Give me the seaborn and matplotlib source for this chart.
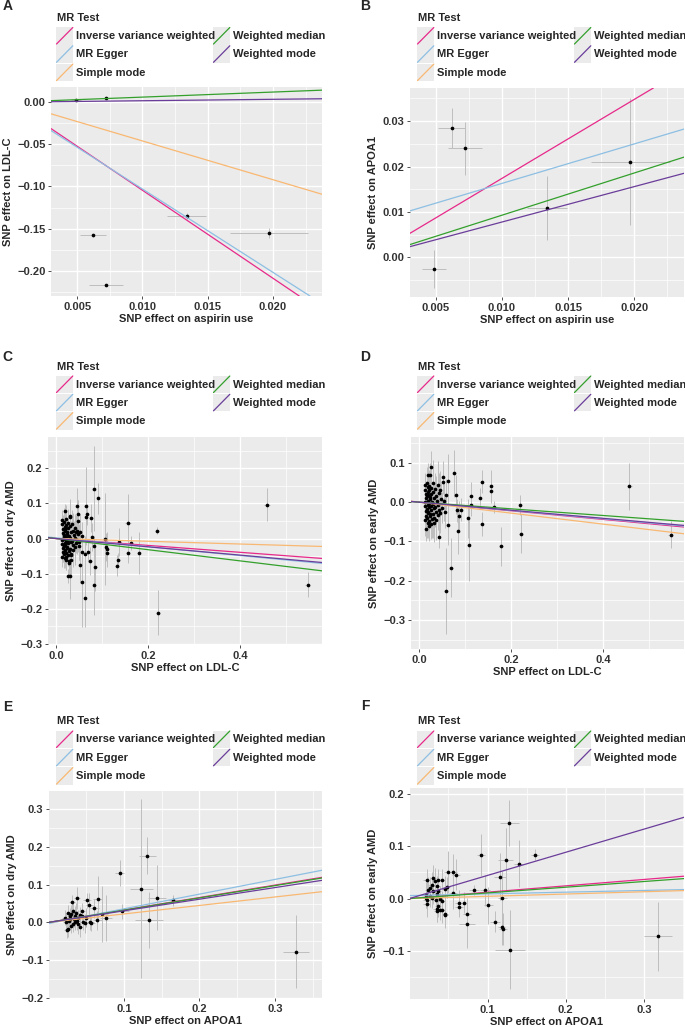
import numpy as np
import matplotlib
matplotlib.use("Agg")
import matplotlib.pyplot as plt
import seaborn as sns
from matplotlib.patches import Rectangle
from matplotlib.lines import Line2D
from matplotlib.ticker import AutoMinorLocator

W, H = 685, 1027

methods = ["Inverse variance weighted", "MR Egger", "Simple mode",
           "Weighted median", "Weighted mode"]
colors = ["#E7298A", "#8DBFE3", "#F9B872", "#33A02C", "#6A3D9A"]

# SNP effects: (exposure beta, outcome beta, exposure se, outcome se)
a_snps = [(0.0049, 0.0025, 0.0004, 0.0015), (0.0072, 0.0050, 0.0004, 0.0015),
          (0.0062, -0.158, 0.0010, 0.0015), (0.0072, -0.217, 0.0013, 0.0015),
          (0.0134, -0.135, 0.0015, 0.0040), (0.0197, -0.155, 0.0030, 0.0060)]
a_icpt = [0, -0.004, 0, 0, 0]
a_slope = [-10.45, -9.9, -4.6, 0.6, 0.17]

b_snps = [(0.0049, -0.0025, 0.0009, 0.0042), (0.0062, 0.0284, 0.0010, 0.0044),
          (0.0072, 0.0240, 0.0013, 0.0058), (0.0134, 0.0109, 0.0015, 0.0070),
          (0.0197, 0.0211, 0.0030, 0.0140)]
b_icpt = [0, 0.0076, 0, 0, 0]
b_slope = [1.74, 0.87, -4.0, 0.93, 0.78]

c_snps = [(0.0815, 0.142, 0.003, 0.120), (0.091, 0.114, 0.003, 0.045), (0.045, 0.093, 0.002, 0.050),
          (0.064, 0.093, 0.003, 0.110), (0.048, 0.069, 0.002, 0.040), (0.067, 0.069, 0.002, 0.030),
          (0.019, 0.077, 0.002, 0.020), (0.029, 0.064, 0.002, 0.030), (0.076, 0.059, 0.003, 0.040),
          (0.064, 0.062, 0.002, 0.030), (0.107, -0.001, 0.003, 0.130), (0.077, 0.005, 0.002, 0.040),
          (0.082, -0.022, 0.002, 0.030), (0.108, -0.024, 0.003, 0.040), (0.111, -0.030, 0.003, 0.050),
          (0.111, -0.041, 0.003, 0.030), (0.137, -0.011, 0.004, 0.040), (0.163, -0.014, 0.004, 0.020),
          (0.156, 0.0455, 0.006, 0.080), (0.156, -0.040, 0.004, 0.030), (0.179, -0.042, 0.004, 0.060),
          (0.135, -0.060, 0.004, 0.020), (0.132, -0.078, 0.004, 0.030), (0.2196, 0.0227, 0.004, 0.010),
          (0.458, 0.0966, 0.006, 0.047), (0.547, -0.131, 0.005, 0.036), (0.221, -0.211, 0.004, 0.064),
          (0.085, -0.080, 0.003, 0.070), (0.074, -0.064, 0.003, 0.040), (0.051, -0.076, 0.002, 0.050),
          (0.057, -0.123, 0.002, 0.130), (0.083, -0.133, 0.003, 0.085), (0.0625, -0.168, 0.002, 0.085),
          (0.025, -0.106, 0.002, 0.020), (0.029, -0.106, 0.002, 0.065), (0.062, -0.043, 0.002, 0.050),
          (0.068, -0.037, 0.002, 0.030), (0.055, -0.038, 0.002, 0.020), (0.027, -0.064, 0.002, 0.030),
          (0.031, -0.047, 0.002, 0.040), (0.022, -0.052, 0.002, 0.030),
          (0.012, 0.052, 0.002, 0.030), (0.013, 0.040, 0.002, 0.030), (0.014, 0.028, 0.002, 0.040),
          (0.015, 0.015, 0.002, 0.030), (0.016, 0.005, 0.002, 0.020), (0.012, -0.004, 0.002, 0.030),
          (0.013, -0.015, 0.002, 0.030), (0.014, -0.026, 0.002, 0.040), (0.015, -0.038, 0.002, 0.030),
          (0.013, -0.052, 0.002, 0.030), (0.017, 0.046, 0.002, 0.040), (0.018, 0.033, 0.002, 0.030),
          (0.019, 0.022, 0.002, 0.030), (0.017, 0.010, 0.002, 0.020), (0.018, -0.002, 0.002, 0.030),
          (0.019, -0.012, 0.002, 0.040), (0.017, -0.022, 0.002, 0.030), (0.018, -0.033, 0.002, 0.030),
          (0.016, -0.045, 0.002, 0.040), (0.019, -0.055, 0.002, 0.030), (0.021, 0.055, 0.002, 0.040),
          (0.022, 0.038, 0.002, 0.030), (0.020, 0.026, 0.002, 0.030), (0.023, 0.014, 0.002, 0.040),
          (0.021, 0.004, 0.002, 0.030), (0.022, -0.008, 0.002, 0.030), (0.020, -0.018, 0.002, 0.040),
          (0.023, -0.028, 0.002, 0.030), (0.021, -0.040, 0.002, 0.050), (0.022, -0.060, 0.002, 0.030),
          (0.025, 0.045, 0.002, 0.040), (0.026, 0.030, 0.002, 0.030), (0.024, 0.018, 0.002, 0.030),
          (0.027, 0.008, 0.002, 0.040), (0.025, -0.003, 0.002, 0.030), (0.026, -0.014, 0.002, 0.050),
          (0.024, -0.024, 0.002, 0.030), (0.027, -0.036, 0.002, 0.040), (0.025, -0.048, 0.002, 0.030),
          (0.028, -0.070, 0.002, 0.040), (0.029, 0.062, 0.002, 0.050), (0.030, 0.035, 0.002, 0.040),
          (0.031, 0.020, 0.002, 0.030), (0.029, 0.002, 0.002, 0.040), (0.032, -0.010, 0.002, 0.050),
          (0.030, -0.030, 0.002, 0.040), (0.033, -0.045, 0.002, 0.030), (0.031, -0.060, 0.002, 0.050),
          (0.035, 0.040, 0.002, 0.040), (0.036, 0.022, 0.002, 0.050), (0.038, 0.010, 0.002, 0.040),
          (0.035, -0.006, 0.002, 0.030), (0.037, -0.018, 0.002, 0.040), (0.036, -0.032, 0.002, 0.050),
          (0.040, 0.030, 0.002, 0.040), (0.042, 0.018, 0.002, 0.050), (0.041, 0.002, 0.002, 0.040),
          (0.043, -0.012, 0.002, 0.030), (0.040, -0.025, 0.002, 0.050), (0.046, 0.022, 0.002, 0.040),
          (0.048, 0.012, 0.002, 0.050), (0.045, -0.004, 0.002, 0.040), (0.047, 0.050, 0.002, 0.060),
          (0.049, -0.020, 0.002, 0.040), (0.052, 0.020, 0.002, 0.050), (0.055, 0.008, 0.002, 0.040),
          (0.050, -0.010, 0.002, 0.050)]
c_icpt = [0, 0.002, 0, 0, 0]
c_slope = [-0.098, -0.126, -0.039, -0.159, -0.118]

d_snps = [(0.4565, 0.040, 0.006, 0.061), (0.5457, -0.083, 0.005, 0.035), (0.2196, -0.0068, 0.004, 0.025),
          (0.221, -0.0805, 0.004, 0.050), (0.178, -0.112, 0.004, 0.050), (0.107, -0.108, 0.004, 0.093),
          (0.058, -0.226, 0.004, 0.110), (0.0696, -0.167, 0.004, 0.075), (0.1355, 0.0525, 0.003, 0.030),
          (0.131, 0.011, 0.003, 0.025), (0.156, 0.042, 0.003, 0.040), (0.156, 0.028, 0.003, 0.030),
          (0.1355, -0.055, 0.003, 0.030), (0.1616, -0.013, 0.003, 0.015), (0.1116, 0.016, 0.003, 0.035),
          (0.1116, -0.006, 0.003, 0.030), (0.106, -0.041, 0.003, 0.050), (0.076, 0.074, 0.003, 0.060),
          (0.0797, 0.019, 0.003, 0.050), (0.084, -0.073, 0.003, 0.060), (0.062, -0.058, 0.003, 0.050),
          (0.0435, -0.088, 0.002, 0.030), (0.0507, 0.065, 0.002, 0.040), (0.0507, 0.051, 0.002, 0.030),
          (0.026, 0.0907, 0.002, 0.040), (0.019, 0.069, 0.002, 0.030), (0.024, 0.069, 0.002, 0.030),
          (0.062, 0.053, 0.002, 0.070), (0.058, 0.019, 0.002, 0.040), (0.082, -0.021, 0.002, 0.030),
          (0.087, -0.036, 0.002, 0.040), (0.091, -0.019, 0.002, 0.030), (0.0145, -0.068, 0.002, 0.030),
          (0.012, 0.045, 0.002, 0.030), (0.013, 0.032, 0.002, 0.040), (0.014, 0.020, 0.002, 0.030),
          (0.015, 0.010, 0.002, 0.030), (0.012, 0.000, 0.002, 0.040), (0.013, -0.010, 0.002, 0.030),
          (0.014, -0.022, 0.002, 0.040), (0.015, -0.034, 0.002, 0.030), (0.013, -0.046, 0.002, 0.040),
          (0.017, 0.050, 0.002, 0.040), (0.018, 0.038, 0.002, 0.030), (0.019, 0.026, 0.002, 0.040),
          (0.017, 0.015, 0.002, 0.030), (0.018, 0.004, 0.002, 0.040), (0.019, -0.006, 0.002, 0.030),
          (0.017, -0.017, 0.002, 0.040), (0.018, -0.028, 0.002, 0.030), (0.016, -0.040, 0.002, 0.050),
          (0.019, -0.052, 0.002, 0.040), (0.021, 0.042, 0.002, 0.040), (0.022, 0.030, 0.002, 0.050),
          (0.020, 0.018, 0.002, 0.040), (0.023, 0.008, 0.002, 0.030), (0.021, -0.002, 0.002, 0.040),
          (0.022, -0.013, 0.002, 0.050), (0.020, -0.024, 0.002, 0.040), (0.023, -0.036, 0.002, 0.030),
          (0.021, -0.047, 0.002, 0.050), (0.022, -0.060, 0.002, 0.040), (0.025, 0.036, 0.002, 0.050),
          (0.026, 0.022, 0.002, 0.040), (0.024, 0.012, 0.002, 0.030), (0.027, 0.001, 0.002, 0.040),
          (0.025, -0.010, 0.002, 0.050), (0.026, -0.020, 0.002, 0.040), (0.024, -0.031, 0.002, 0.030),
          (0.027, -0.042, 0.002, 0.050), (0.025, -0.055, 0.002, 0.040), (0.029, 0.048, 0.002, 0.060),
          (0.030, 0.026, 0.002, 0.050), (0.031, 0.010, 0.002, 0.040), (0.029, -0.004, 0.002, 0.050),
          (0.032, -0.016, 0.002, 0.040), (0.030, -0.030, 0.002, 0.060), (0.033, -0.040, 0.002, 0.040),
          (0.031, -0.052, 0.002, 0.050), (0.035, 0.034, 0.002, 0.040), (0.036, 0.016, 0.002, 0.050),
          (0.038, 0.003, 0.002, 0.040), (0.035, -0.012, 0.002, 0.050), (0.037, -0.024, 0.002, 0.040),
          (0.036, -0.046, 0.002, 0.050), (0.040, 0.044, 0.002, 0.060), (0.042, 0.024, 0.002, 0.050),
          (0.041, -0.008, 0.002, 0.040), (0.043, -0.020, 0.002, 0.050), (0.040, -0.032, 0.002, 0.040),
          (0.046, 0.030, 0.002, 0.050), (0.048, 0.008, 0.002, 0.040), (0.045, -0.028, 0.002, 0.050),
          (0.049, -0.014, 0.002, 0.040), (0.053, 0.002, 0.002, 0.050), (0.056, -0.026, 0.002, 0.040)]
d_icpt = [0, 0.0, 0, 0, 0]
d_slope = [-0.110, -0.106, -0.140, -0.085, -0.103]

e_snps = [(0.328, -0.077, 0.017, 0.097), (0.131, 0.177, 0.011, 0.050), (0.123, 0.0895, 0.015, 0.237),
          (0.133, 0.007, 0.0185, 0.074), (0.144, 0.065, 0.012, 0.086), (0.165, 0.0588, 0.010, 0.015),
          (0.0943, 0.1316, 0.006, 0.035), (0.097, 0.029, 0.010, 0.020), (0.076, 0.012, 0.008, 0.060),
          (0.071, 0.022, 0.008, 0.075), (0.0656, 0.0623, 0.006, 0.060), (0.0647, 0.006, 0.006, 0.025),
          (0.0607, 0.0377, 0.006, 0.025), (0.0545, 0.047, 0.005, 0.030), (0.0514, 0.0588, 0.005, 0.020),
          (0.0558, 0.000, 0.005, 0.020), (0.038, 0.065, 0.004, 0.030), (0.0316, 0.0535, 0.004, 0.020),
          (0.0262, 0.026, 0.004, 0.020), (0.0307, 0.022, 0.004, 0.025), (0.0329, 0.0305, 0.004, 0.020),
          (0.0373, 0.026, 0.004, 0.025), (0.0395, 0.013, 0.004, 0.020), (0.0285, 0.0087, 0.004, 0.025),
          (0.035, 0.000, 0.004, 0.020), (0.0241, 0.000, 0.004, 0.025), (0.0307, -0.009, 0.004, 0.020),
          (0.0262, -0.0176, 0.004, 0.020), (0.0395, -0.0045, 0.004, 0.025), (0.0461, 0.000, 0.004, 0.020),
          (0.0417, -0.013, 0.004, 0.025), (0.0219, 0.013, 0.004, 0.020), (0.036, 0.0175, 0.004, 0.025),
          (0.044, 0.0175, 0.004, 0.020), (0.027, 0.003, 0.004, 0.025), (0.033, -0.004, 0.004, 0.020),
          (0.029, 0.017, 0.004, 0.020), (0.038, 0.005, 0.004, 0.025), (0.042, 0.021, 0.004, 0.020),
          (0.048, -0.002, 0.004, 0.025), (0.025, -0.020, 0.004, 0.020), (0.034, 0.009, 0.004, 0.020),
          (0.0493, 0.013, 0.004, 0.025), (0.0448, 0.0305, 0.004, 0.020), (0.057, -0.002, 0.005, 0.020)]
e_icpt = [0, -0.003, 0, 0, 0]
e_slope = [0.33, 0.39, 0.225, 0.325, 0.308]

f_snps = [(0.3174, -0.072, 0.018, 0.066), (0.1277, 0.1446, 0.012, 0.044), (0.0915, 0.0828, 0.005, 0.040),
          (0.123, 0.0745, 0.010, 0.060), (0.1396, 0.0669, 0.006, 0.045), (0.161, 0.084, 0.005, 0.010),
          (0.1157, 0.0414, 0.008, 0.045), (0.119, 0.002, 0.006, 0.050), (0.0966, 0.016, 0.006, 0.030),
          (0.0826, 0.016, 0.006, 0.010), (0.1009, -0.0127, 0.006, 0.035), (0.1098, -0.0446, 0.006, 0.020),
          (0.1179, -0.0535, 0.005, 0.035), (0.120, -0.058, 0.005, 0.030), (0.1285, -0.0975, 0.019, 0.076),
          (0.074, -0.0478, 0.010, 0.046), (0.074, -0.0287, 0.005, 0.030), (0.0634, -0.0083, 0.005, 0.025),
          (0.0634, -0.016, 0.005, 0.020), (0.0694, -0.0083, 0.005, 0.020), (0.0498, 0.0503, 0.005, 0.040),
          (0.0562, 0.0503, 0.005, 0.035), (0.0596, 0.0459, 0.005, 0.030), (0.0562, 0.0108, 0.005, 0.030),
          (0.046, -0.029, 0.004, 0.020), (0.0413, -0.021, 0.004, 0.025),
          (0.0221, 0.0363, 0.004, 0.020), (0.0307, 0.0395, 0.004, 0.025), (0.037, 0.0363, 0.004, 0.020),
          (0.0327, 0.033, 0.004, 0.025), (0.0422, 0.0363, 0.004, 0.020), (0.0285, 0.0255, 0.004, 0.025),
          (0.035, 0.0235, 0.004, 0.020), (0.0243, 0.0172, 0.004, 0.025), (0.0264, 0.0204, 0.004, 0.020),
          (0.0307, 0.014, 0.004, 0.025), (0.037, 0.0153, 0.004, 0.020), (0.0455, 0.019, 0.004, 0.025),
          (0.0477, 0.0216, 0.004, 0.020), (0.0208, 0.0076, 0.004, 0.025), (0.0264, 0.0044, 0.004, 0.020),
          (0.035, 0.009, 0.004, 0.025), (0.0285, 0.0013, 0.004, 0.020), (0.0221, -0.0032, 0.004, 0.025),
          (0.0336, -0.0019, 0.004, 0.020), (0.0391, 0.000, 0.004, 0.025), (0.0413, -0.0052, 0.004, 0.020),
          (0.0221, -0.0096, 0.004, 0.025), (0.037, -0.0147, 0.004, 0.020), (0.035, -0.019, 0.004, 0.025),
          (0.0391, -0.021, 0.004, 0.020), (0.0455, -0.0306, 0.004, 0.025), (0.0358, -0.0243, 0.004, 0.020),
          (0.0208, 0.0013, 0.004, 0.020)]
f_icpt = [0, 0.0057, 0, 0, 0]
f_slope = [0.122, 0.033, 0.0437, 0.109, 0.443]

sns.set_theme(style="darkgrid", rc={
    "axes.facecolor": "#EBEBEB", "grid.color": "white", "grid.linewidth": 1.0,
    "xtick.bottom": True, "ytick.left": True, "xtick.major.size": 2.5, "ytick.major.size": 2.5,
    "xtick.major.width": 0.6, "ytick.major.width": 0.6, "xtick.color": "#333333",
    "ytick.color": "#333333", "xtick.major.pad": 1.5, "ytick.major.pad": 1.5,
    "xtick.labelsize": 8, "ytick.labelsize": 8, "axes.labelsize": 8,
})
plt.rcParams["font.family"] = ["Liberation Sans", "DejaVu Sans"]
plt.rcParams["font.weight"] = "bold"
plt.rcParams["font.size"] = 8

fig = plt.figure(figsize=(W / 100, H / 100), dpi=100)


def add_ax(x0, y0, x1, y1):
    return fig.add_axes([x0 / W, 1 - y1 / H, (x1 - x0) / W, (y1 - y0) / H])


def draw_legend(kx, ky):
    fig.text((kx + 1) / W, 1 - (ky - 9) / H, "MR Test", fontsize=8, fontweight="bold", va="center")
    for i, (name, col) in enumerate(zip(methods, colors)):
        c, r = divmod(i, 3)
        x = kx + c * 157
        y = ky + r * 18.3
        fig.add_artist(Rectangle((x / W, 1 - (y + 17.6) / H), 17.3 / W, 17.6 / H,
                                 transform=fig.transFigure, facecolor="#EBEBEB", edgecolor="none"))
        fig.add_artist(Line2D([(x + 0.5) / W, (x + 16.8) / W], [1 - (y + 17) / H, 1 - (y + 0.5) / H],
                              transform=fig.transFigure, color=col, lw=0.9))
        fig.text((x + 20) / W, 1 - (y + 9) / H, name, fontsize=8, fontweight="bold", va="center")


def draw_panel(ax, snps, icpt, slope, xlim, ylim, xticks, yticks, xfmt, yfmt, xlabel, ylabel):
    bx, by, sx, sy = np.array(snps).T
    ax.errorbar(bx, by, yerr=sy, fmt="none", ecolor="#BEBEBE", elinewidth=0.7, zorder=1)
    ax.errorbar(bx, by, xerr=sx, fmt="none", ecolor="#BEBEBE", elinewidth=0.7, zorder=1)
    sns.scatterplot(x=bx, y=by, ax=ax, color="black", s=7, linewidth=0, zorder=3)
    for b0, b1, col in zip(icpt, slope, colors):
        ax.axline((0, b0), slope=b1, color=col, lw=0.9, zorder=4)
    ax.set_xlim(xlim)
    ax.set_ylim(ylim)
    ax.set_xticks(xticks)
    ax.set_yticks(yticks)
    ax.set_xticklabels([xfmt.format(v).replace("-", "\u2212") for v in xticks], fontweight="bold")
    ax.set_yticklabels([yfmt.format(v).replace("-", "\u2212") for v in yticks], fontweight="bold")
    ax.xaxis.set_minor_locator(AutoMinorLocator(2))
    ax.yaxis.set_minor_locator(AutoMinorLocator(2))
    ax.grid(which="minor", color="white", linewidth=0.5)
    ax.tick_params(which="minor", length=0)
    for s in ax.spines.values():
        s.set_visible(False)
    ax.set_xlabel(xlabel, fontweight="bold", labelpad=2)
    ax.set_ylabel(ylabel, fontweight="bold", labelpad=3)


axA = add_ax(51, 87, 322, 296)
draw_panel(axA, a_snps, a_icpt, a_slope, (0.0030, 0.02375), (-0.230, 0.018),
           [0.005, 0.010, 0.015, 0.020], [-0.20, -0.15, -0.10, -0.05, 0.00], "{:.3f}", "{:.2f}",
           "SNP effect on aspirin use", "SNP effect on LDL-C")
axB = add_ax(410, 88, 684, 297)
draw_panel(axB, b_snps, b_icpt, b_slope, (0.00306, 0.02375), (-0.0087, 0.0373),
           [0.005, 0.010, 0.015, 0.020], [0.00, 0.01, 0.02, 0.03], "{:.3f}", "{:.2f}",
           "SNP effect on aspirin use", "SNP effect on APOA1")
axC = add_ax(48, 437, 322, 645)
draw_panel(axC, c_snps, c_icpt, c_slope, (-0.018, 0.578), (-0.303, 0.289),
           [0.0, 0.2, 0.4], [-0.3, -0.2, -0.1, 0.0, 0.1, 0.2], "{:.1f}", "{:.1f}",
           "SNP effect on LDL-C", "SNP effect on dry AMD")
axD = add_ax(411, 437, 684, 649)
draw_panel(axD, d_snps, d_icpt, d_slope, (-0.018, 0.575), (-0.374, 0.166),
           [0.0, 0.2, 0.4], [-0.3, -0.2, -0.1, 0.0, 0.1], "{:.1f}", "{:.1f}",
           "SNP effect on LDL-C", "SNP effect on early AMD")
axE = add_ax(49, 791, 322, 998)
draw_panel(axE, e_snps, e_icpt, e_slope, (0.001, 0.362), (-0.197, 0.348),
           [0.1, 0.2, 0.3], [-0.2, -0.1, 0.0, 0.1, 0.2, 0.3], "{:.1f}", "{:.1f}",
           "SNP effect on APOA1", "SNP effect on dry AMD")
axF = add_ax(410, 788, 684, 999)
draw_panel(axF, f_snps, f_icpt, f_slope, (0.001, 0.351), (-0.192, 0.2115),
           [0.1, 0.2, 0.3], [-0.1, 0.0, 0.1, 0.2], "{:.1f}", "{:.1f}",
           "SNP effect on APOA1", "SNP effect on early AMD")

draw_legend(56, 27)
draw_legend(417, 27)
draw_legend(56, 375.5)
draw_legend(417, 375.5)
draw_legend(56, 730.5)
draw_legend(417, 730.5)

for letter, x, y in [("A", 8, 6), ("B", 365, 6), ("C", 7, 357), ("D", 365, 357),
                     ("E", 8, 707), ("F", 365, 706)]:
    fig.text(x / W, 1 - y / H, letter, fontsize=10, fontweight="bold", ha="center", va="center")

fig.savefig("out.png", dpi=100)
